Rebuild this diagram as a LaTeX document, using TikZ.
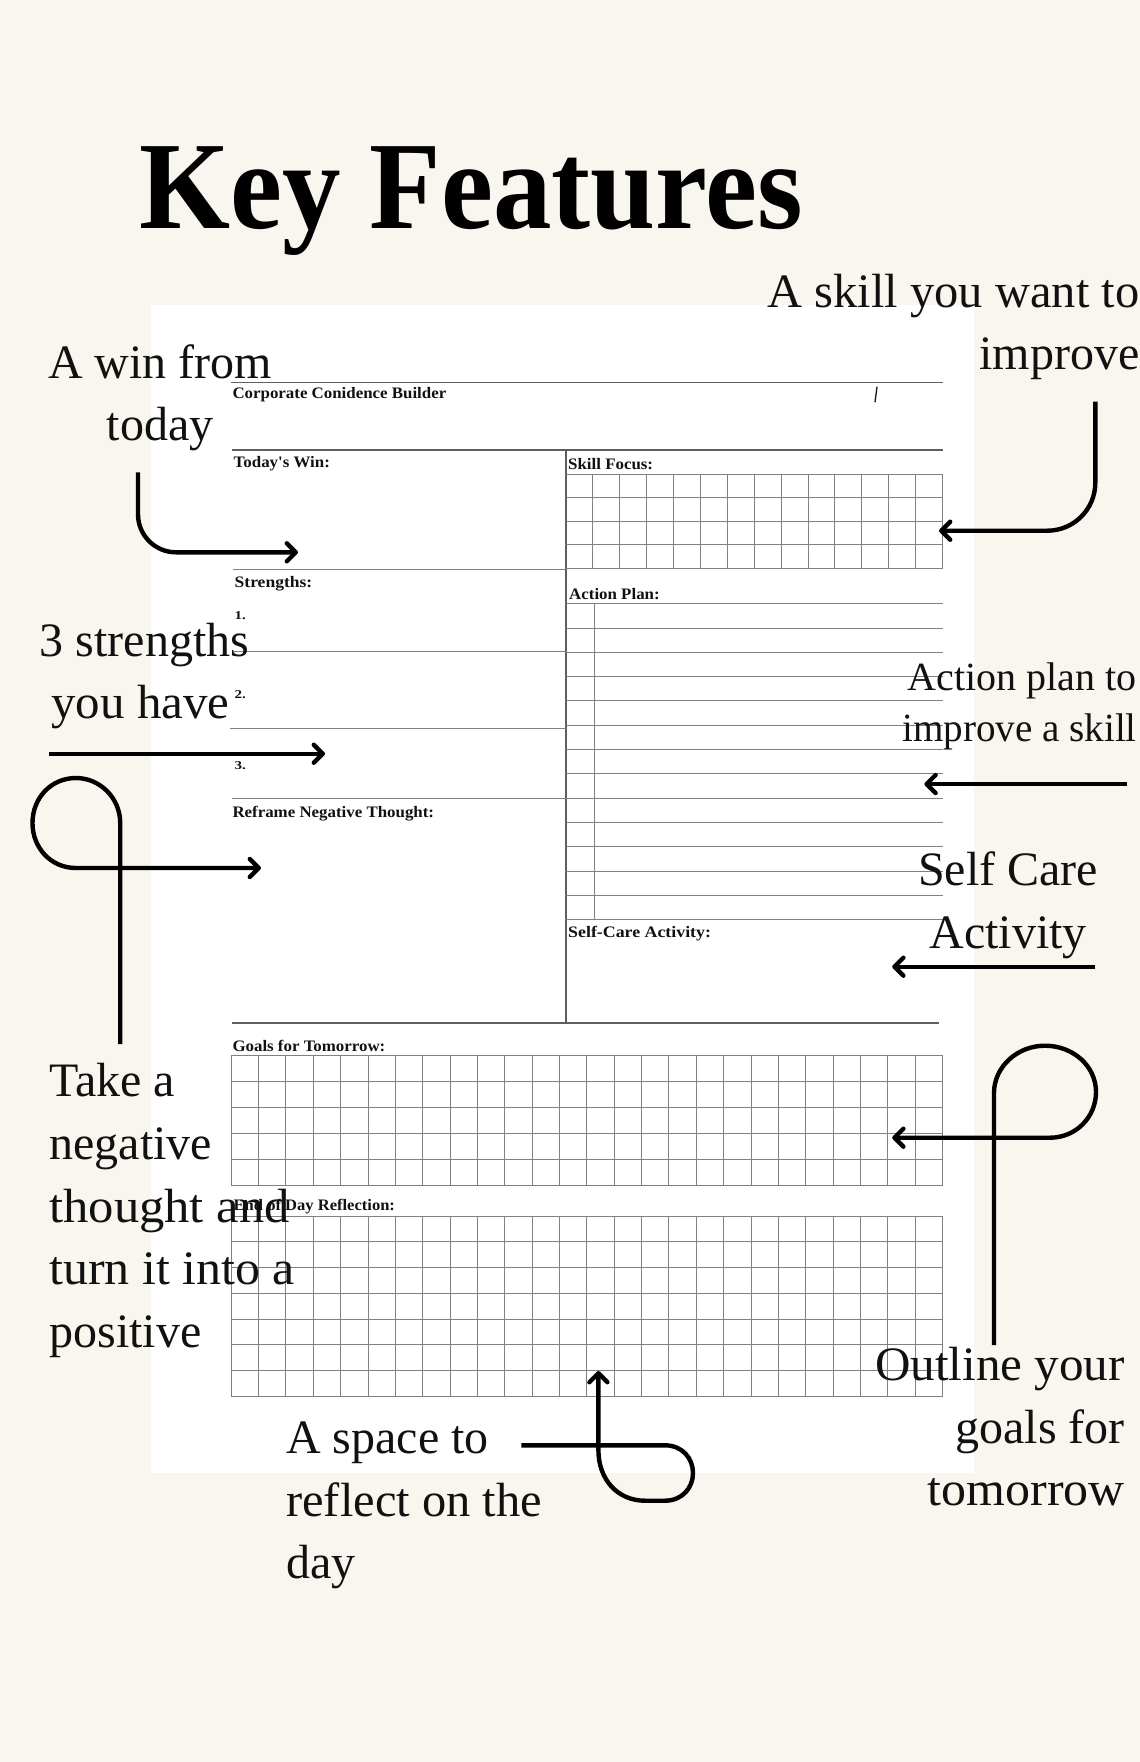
\documentclass[tikz,border=0pt]{standalone}
\usepackage{fontspec}
\setmainfont{Liberation Serif}
\newfontfamily\formfont{Liberation Serif}[FakeStretch=1.055]
\newfontfamily\numfont{Liberation Serif}[FakeStretch=1.25]
\newfontfamily\titlefont{Liberation Serif}[FakeStretch=0.936]
\newcommand{\strch}[2]{{\addfontfeature{FakeStretch=#1}#2}}
\usetikzlibrary{arrows.meta}
\definecolor{cream}{HTML}{F8F6EE}
\definecolor{inkk}{HTML}{111111}
\definecolor{rulegray}{HTML}{808080}
\definecolor{rulesec}{HTML}{5E5E5E}
\tikzset{
  gridline/.style={draw=rulegray,line width=0.95pt},
  secline/.style={draw=rulesec,line width=1.25pt},
  formlabel/.style={anchor=base west,inner sep=0pt,text=inkk,font=\formfont\bfseries\fontsize{16}{18}\selectfont},
  numlabel/.style={anchor=base west,inner sep=0pt,text=inkk,font=\numfont\bfseries\fontsize{12}{14}\selectfont},
  bigleft/.style={anchor=base west,inner sep=0pt,align=left,text=inkk,font=\fontsize{48}{62.7}\selectfont},
  bigright/.style={anchor=base east,inner sep=0pt,align=right,text=inkk,font=\fontsize{48}{62.5}\selectfont},
  bigmid/.style={anchor=base,inner sep=0pt,align=center,text=inkk,font=\fontsize{48}{62}\selectfont},
  callout/.style={draw=black,line width=4.4pt,-{Straight Barb[length=9pt,width=18pt,round]}},
}
\begin{document}
\begin{tikzpicture}[x=1pt,y=-1pt]
\useasboundingbox (0,0) rectangle (1140,1762);
\fill[cream] (0,0) rectangle (1140,1762);
\fill[white] (151,305) rectangle (973.5,1473);
% form rules
\draw[secline] (231,382.3) -- (942.5,382.3);
\draw[secline] (232,450) -- (942.5,450);
\draw[secline] (566,450) -- (566,1023);
\draw[gridline] (233,569) -- (566,569);
\draw[gridline] (234,651.3) -- (566,651.3);
\draw[gridline] (229.5,728) -- (566,728);
\draw[gridline] (231.5,798) -- (566,798);
\draw[secline] (231.5,1023) -- (939,1023);
\draw[draw=inkk,line width=1.3pt] (877,386.7) -- (875,402.3);
% skill focus grid
\foreach \i in {0,...,4} \draw[gridline] (566,{474+\i*23.58}) -- (942.5,{474+\i*23.58});
\foreach \i in {1,...,14} \draw[gridline] ({566+\i*26.89},474) -- ({566+\i*26.89},568.3);
% action plan
\foreach \i in {0,...,13} \draw[gridline] (566,{603.7+\i*24.31}) -- (942.5,{603.7+\i*24.31});
\draw[gridline] (594.8,603.7) -- (594.8,919.7);
% goals grid
\foreach \i in {0,...,5} \draw[gridline] (231.2,{1055.7+\i*25.92}) -- (942.5,{1055.7+\i*25.92});
\foreach \i in {0,...,26} \draw[gridline] ({231.2+\i*27.358},1055.7) -- ({231.2+\i*27.358},1185.3);
% reflection grid
\foreach \i in {0,...,7} \draw[gridline] (231.2,{1216+\i*25.76}) -- (942.5,{1216+\i*25.76});
\foreach \i in {0,...,26} \draw[gridline] ({231.2+\i*27.358},1216) -- ({231.2+\i*27.358},1396.3);
% form labels
\node[formlabel] (fTitle) at (232.3,398) {Corporate Conidence Builder};
\node[formlabel] (fWin) at (233.5,467) {Today's Win:};
\node[formlabel] (fStr) at (234.5,587.3) {\strch{1.095}{Strengths:}};
\node[numlabel] (fOne) at (234.5,619) {1.};
\node[numlabel] (fTwo) at (234.5,698.7) {2.};
\node[numlabel] (fThree) at (234.5,769.3) {3.};
\node[formlabel] (fNeg) at (232.3,817.3) {Reframe Negative Thought:};
\node[formlabel] (fGoals) at (232.3,1051.7) {Goals for Tomorrow:};
\node[formlabel] (fEnd) at (233.5,1210) {\strch{1.034}{End of Day Reflection:}};
\node[formlabel] (fSkill) at (568,469.5) {Skill Focus:};
\node[formlabel] (fAct) at (569,599.3) {Action Plan:};
\node[formlabel] (fCare) at (568,937.3) {\strch{1.115}{Self-Care Activity:}};
% title
\node[anchor=base west,inner sep=0pt,text=black,font=\titlefont\bfseries\fontsize{125}{130}\selectfont] (title) at (139,228) {Key Features};
% big labels
\node[bigmid] (lWin) at (160,440) {A win from\\today};
\node[bigmid] (lStr) at (144.5,718.5) {3 strengths\\\strch{1.02}{you have}\hspace*{8pt}};
\node[bigright] (lSkill) at (1139.5,369.5) {\strch{1.01}{A skill you want to}\\improve};
\node[bigright,font=\fontsize{40}{51.4}\selectfont] (lAct) at (1137,741.8) {Action plan to\\\strch{0.977}{improve a skill}};
\node[bigmid,font=\fontsize{48}{63.3}\selectfont] (lCare) at (1008,948.8) {Self Care\\Activity};
\node[bigleft] (lNeg) at (49.2,1347.5) {Take a\\negative\\\strch{1.054}{thought and}\\\strch{1.04}{turn it into a}\\positive};
\node[bigleft] (lDay) at (286,1578.7) {A space to\\\strch{1.01}{reflect on the}\\day};
\node[bigright,font=\fontsize{48}{62.5}\selectfont] (lGoal) at (1125,1505.5) {\strch{1.023}{Outline your}\\goals for\\\strch{1.04}{tomorrow}};
% connectors
\coordinate (aWinS) at (138,472.3);
\coordinate (aWinE) at (298,552.3);
\coordinate (aSkillS) at (1095.3,401.7);
\coordinate (aSkillE) at (939,530.7);
\coordinate (aStrS) at (48.5,753.7);
\coordinate (aStrE) at (325,753.7);
\coordinate (aNegS) at (120.2,1044);
\coordinate (aNegE) at (261,868);
\coordinate (aActS) at (1127,784);
\coordinate (aActE) at (924.4,784);
\coordinate (aCareS) at (1095.3,966.7);
\coordinate (aCareE) at (892.2,966.7);
\coordinate (aGoalS) at (994,1345);
\coordinate (aGoalE) at (892.2,1137.7);
\coordinate (aDayS) at (521.4,1445.3);
\coordinate (aDayE) at (598.4,1371);
\draw[callout,rounded corners=38pt] (aWinS) |- (aWinE);
\draw[callout,rounded corners=48pt] (aSkillS) |- (aSkillE);
\draw[callout] (aStrS) -- (aStrE);
\draw[callout] (aActS) -- (aActE);
\draw[callout] (aCareS) -- (aCareE);
\draw[callout] (aNegS) -- (120.2,823) .. controls (120.2,798) and (100,778) .. (76,778) .. controls (51,778) and (32.5,798) .. (32.5,823) .. controls (32.5,848) and (51,868) .. (76,868) -- (aNegE);
\draw[callout] (aGoalS) -- (994,1093) .. controls (994,1067) and (1017,1045.7) .. (1045,1045.7) .. controls (1073,1045.7) and (1096,1066) .. (1096,1092) .. controls (1096,1117) and (1076,1137.7) .. (1050,1137.7) -- (aGoalE);
\draw[callout] (aDayS) -- (665,1445.3) .. controls (682,1445.3) and (693,1458) .. (693,1473) .. controls (693,1488) and (682,1500.7) .. (665,1500.7) -- (645,1500.7) .. controls (618,1500.7) and (598.4,1480) .. (598.4,1450) -- (aDayE);
\end{tikzpicture}
\end{document}
